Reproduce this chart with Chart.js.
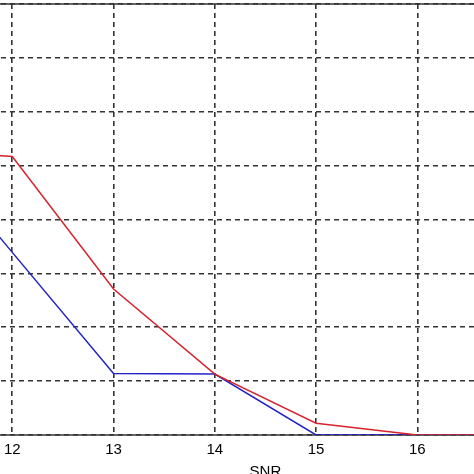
<!DOCTYPE html>
<html>
<head>
<meta charset="utf-8">
<script src="https://cdn.jsdelivr.net/npm/chart.js@4/dist/chart.umd.min.js"></script>
<style>
  html, body { margin: 0; padding: 0; background: #fff; overflow: hidden; }
  #wrap { position: relative; width: 474px; height: 474px; overflow: hidden; }
  #myChart { position: absolute; left: -100px; top: 0; }
</style>
</head>
<body>
<div id="wrap"><canvas id="myChart" width="760" height="520"></canvas></div>
<script>
  // data (the picture only shows SNR 11.9 .. 16.6 of the full plot)
  const snrLabels = ['11', '12', '13', '14', '15', '16', '17', '18'];
  const redValues = [0.530, 0.517, 0.271, 0.113, 0.022, 0, 0, 0];
  const blueValues = [0.565, 0.339, 0.114, 0.113, 0, 0, 0, 0];
  const yMin = 0;
  const yMax = 0.8;
  const yStep = 0.1;

  // where the plot box should land in the 474x474 window
  const box = { left: -88.6, top: 4, width: 708.9, height: 431 };

  // solid frame round the plot area
  const frame = {
    id: 'frame',
    beforeDatasetsDraw(chart) {
      const a = chart.chartArea;
      const ctx = chart.ctx;
      ctx.save();
      ctx.strokeStyle = '#333';
      ctx.lineWidth = 1.5;
      ctx.strokeRect(a.left, a.top, a.right - a.left, a.bottom - a.top);
      ctx.restore();
    }
  };

  const data = {
    labels: snrLabels,
    datasets: [{
      label: 'red',
      data: redValues,
      borderColor: 'rgb(215, 35, 45)',
      borderWidth: 1.5,
      pointRadius: 0,
      tension: 0
    }, {
      label: 'blue',
      data: blueValues,
      borderColor: 'rgb(35, 35, 200)',
      borderWidth: 1.5,
      pointRadius: 0,
      tension: 0
    }]
  };

  const config = {
    type: 'line',
    data,
    plugins: [frame],
    options: {
      responsive: false,
      animation: false,
      layout: { padding: { left: 20, right: 20, top: 10, bottom: 20 } },
      plugins: { legend: { display: false }, tooltip: { enabled: false } },
      scales: {
        x: {
          grid: { color: '#333', lineWidth: 1.6, drawTicks: false },
          border: { display: false, dash: [5, 4] },
          ticks: { color: '#000', padding: 7, autoSkip: false, maxRotation: 0, font: { family: 'Liberation Sans', size: 15, lineHeight: 1 } },
          title: {
            display: true,
            text: 'SNR',
            color: '#000',
            padding: { top: 0, bottom: 0 },
            font: { family: 'Liberation Sans', size: 15, lineHeight: 1 }
          }
        },
        y: {
          min: yMin,
          max: yMax,
          grid: { color: '#333', lineWidth: 1.6, drawTicks: false },
          border: { display: false, dash: [5, 4] },
          ticks: { display: false, stepSize: yStep }
        }
      }
    }
  };

  const canvas = document.getElementById('myChart');
  const myChart = new Chart(canvas, config);

  // size the plot box, then slide the canvas so the box sits where the reference has it
  for (let i = 0; i < 3; i++) {
    const a = myChart.chartArea;
    const p = myChart.options.layout.padding;
    myChart.options.layout.padding = {
      left: p.left,
      top: p.top,
      right: p.right + ((a.right - a.left) - box.width),
      bottom: p.bottom + ((a.bottom - a.top) - box.height)
    };
    myChart.update('none');
  }
  const a = myChart.chartArea;
  canvas.style.left = (box.left - a.left) + 'px';
  canvas.style.top = (box.top - a.top) + 'px';
</script>
</body>
</html>
